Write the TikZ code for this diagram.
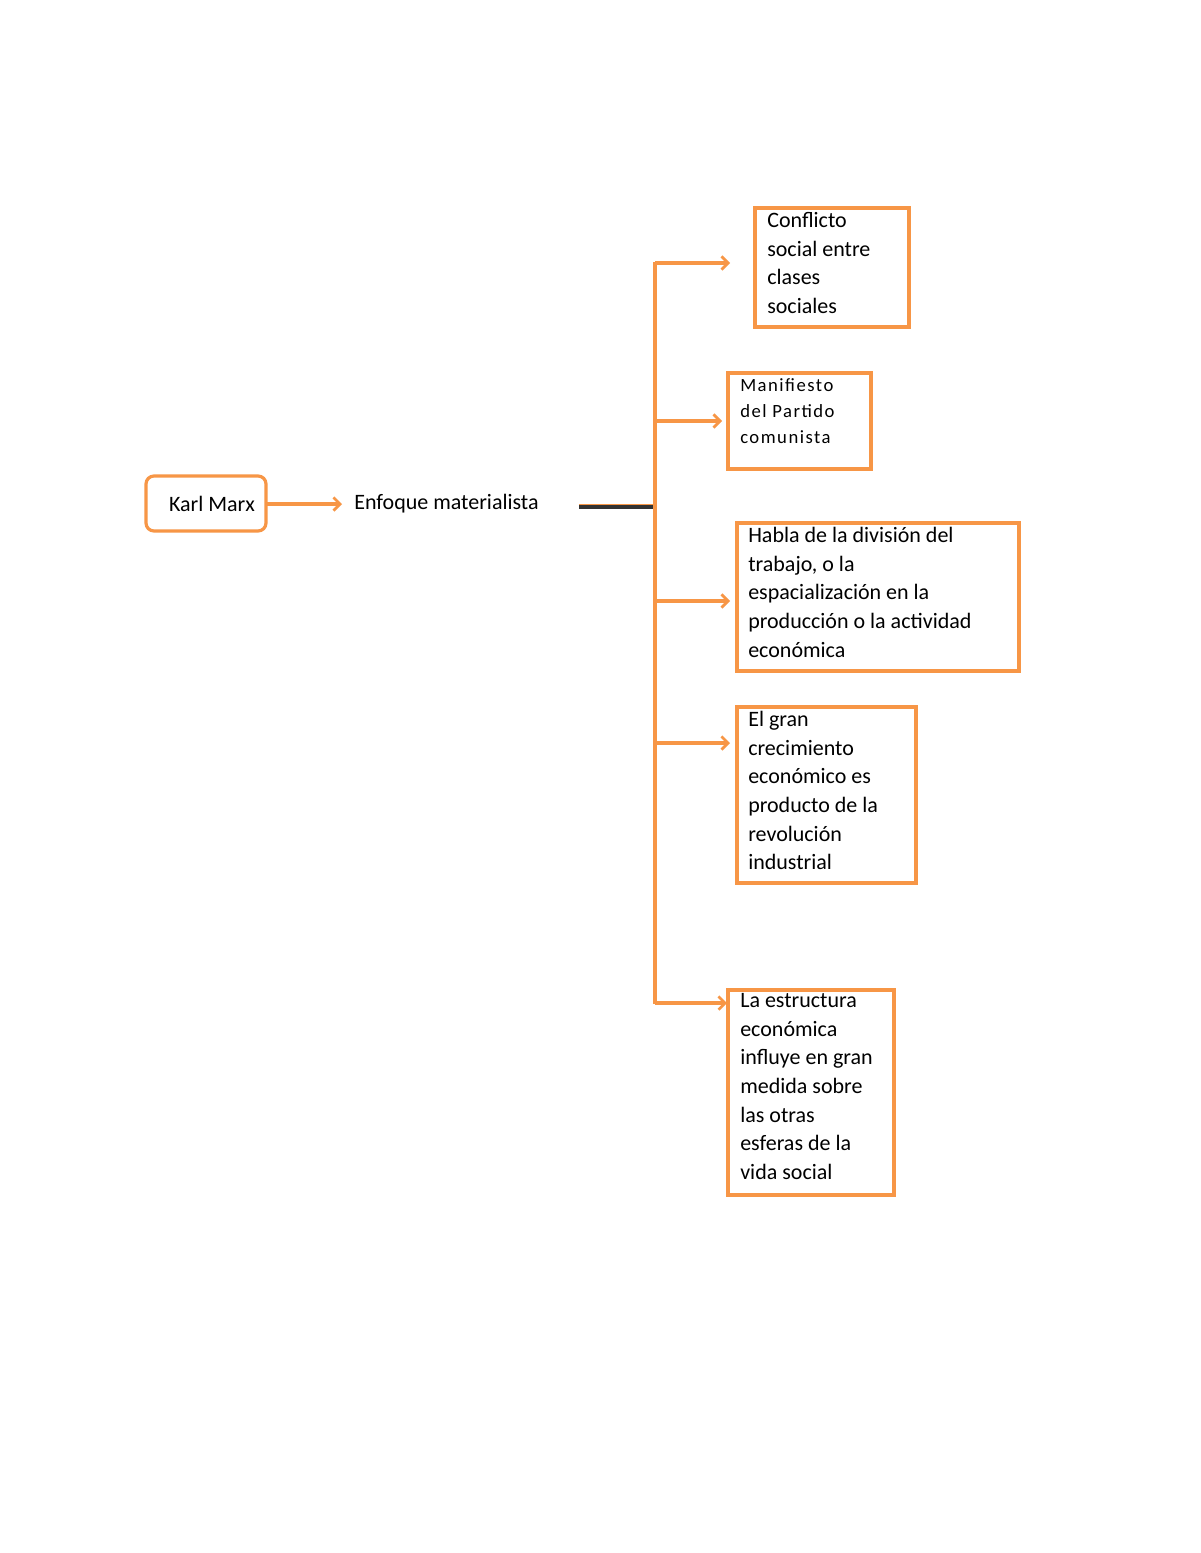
\documentclass[tikz,border=0pt]{standalone}
\usepackage{fontspec}
\setmainfont{Carlito}
\usetikzlibrary{arrows.meta}
\definecolor{org}{HTML}{F79646}
\tikzset{x=0.75pt,y=-0.75pt,
 conn/.style={draw=org,line width=2.6pt,-{Straight Barb[length=5pt,width=10pt,line width=2pt]}},
 boxr/.style={draw=org,line width=2.4pt,inner sep=0pt,anchor=north west},
 txt/.style={anchor=north west,align=left,font=\fontsize{16.5}{21.5}\selectfont,inner sep=0pt}}
\begin{document}
\begin{tikzpicture}
\useasboundingbox[fill=white] (0,0) rectangle (1200,1553);
\draw[draw=org,line width=2.4pt,rounded corners=6pt] (146,476) rectangle (266,531);
\node (km) at (212,504) {\fontsize{16.5}{20}\selectfont Karl Marx};
\coordinate (kme) at (266,504);
\node[anchor=west,inner sep=0pt,font=\fontsize{16.5}{20}\selectfont] (enf) at (354,504) {Enfoque materialista};
\draw[conn] (kme) -- (342,504);
\draw[line width=2.6pt,draw=black!80] (579,507) -- (655,507);
\draw[line width=1.2pt,draw=org] (579,504.5) -- (655,504.5);
\draw[draw=org,line width=2.6pt] (655,262) -- (655,1004);
\foreach \y/\xe in {263/730,421/722,601/730,743/730,1003/727}
 \draw[conn] (655,\y) -- (\xe,\y);
\draw[boxr] (755,208) rectangle (909,327);
\node[txt] (b1) at (767,212) {Conflicto\\social entre\\clases\\sociales};
\draw[boxr] (728,373) rectangle (871,469);
\node[txt,font=\fontsize{14}{19.5}\selectfont\addfontfeature{LetterSpace=8}] (b2) at (740,378) {Manifiesto\\del Partido\\comunista};
\draw[boxr] (737,523) rectangle (1019,671);
\node[txt] (b3) at (748,527) {Habla de la división del\\trabajo, o la\\espacialización en la\\producción o la actividad\\económica};
\draw[boxr] (737,707) rectangle (916,883);
\node[txt] (b4) at (748,711) {El gran\\crecimiento\\económico es\\producto de la\\revolución\\industrial};
\draw[boxr] (728,990) rectangle (894,1195);
\node[txt] (b5) at (740,993) {La estructura\\económica\\influye en gran\\medida sobre\\las otras\\esferas de la\\vida social};
\end{tikzpicture}
\end{document}
